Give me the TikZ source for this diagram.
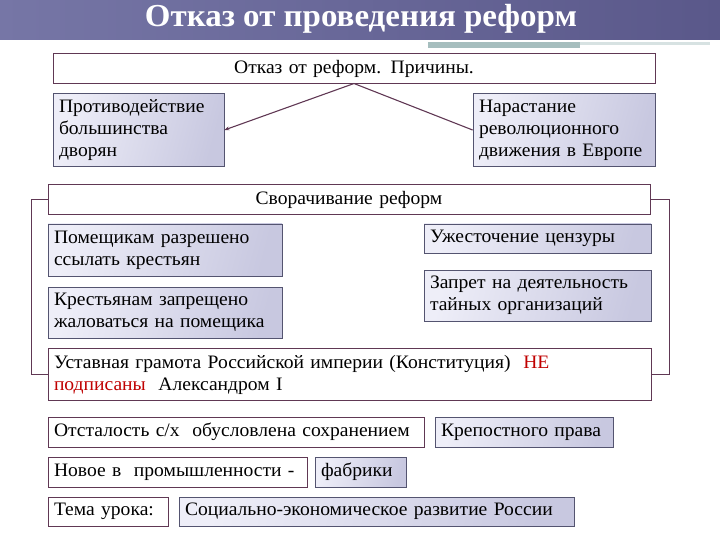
\documentclass[tikz,border=0pt]{standalone}
\usepackage{fontspec}
\setmainfont{Liberation Serif}[FakeStretch=1.03]
\usetikzlibrary{arrows.meta,positioning,calc}
\usepackage{xcolor}

\definecolor{barleft}{RGB}{118,118,166}
\definecolor{barright}{RGB}{90,88,138}
\definecolor{plum}{RGB}{96,56,84}
\definecolor{slateedge}{RGB}{84,84,112}
\definecolor{lavlight}{RGB}{238,238,248}
\definecolor{lavdark}{RGB}{200,200,224}
\definecolor{notred}{RGB}{192,0,0}
\definecolor{tealgray}{RGB}{166,190,190}

\begin{document}
\begin{tikzpicture}[x=1pt,y=-1pt,
    txt/.style={font=\fontsize{19}{22}\selectfont,text=black},
    plainbox/.style={txt,draw=plum,fill=white,line width=0.8pt},
    shadebox/.style={txt,draw=slateedge,line width=0.8pt,
        left color=lavlight,right color=lavdark,shading angle=75},
    link/.style={draw=plum,line width=1.1pt}]

\useasboundingbox (0,0) rectangle (720,540);

% ---- title bar ----
\shade[left color=barleft,right color=barright] (0,0) rectangle (720,40);
\node[font=\bfseries\fontsize{32}{36}\selectfont,text=white] (title) at (361,19)
   {Отказ от проведения реформ};
\fill[tealgray] (428,42) rectangle (580,48);
\fill[tealgray!45] (580,42) rectangle (710,45);

% ---- \rbox{name}{style}{x1}{y1}{x2}{y2}{text}
\newcommand{\rbox}[7]{
  \node[align=left,#2,minimum width={(#5-#3)*1pt},minimum height={(#6-#4)*1pt},
        text width={(#5-#3-12)*1pt},inner sep=6pt]
       (#1) at ({(#3+#5)/2},{(#4+#6)/2}) {#7};
}

% reasons
\rbox{why}{plainbox,align=center}{53}{54}{655}{83}{Отказ от реформ. Причины.}
\rbox{nobles}{shadebox}{53}{94}{224}{166}{Противодействие\\большинства\\дворян}
\rbox{europe}{shadebox}{473}{94}{655}{166}{Нарастание\\революционного\\движения в Европе}
\draw[link,-{Stealth[length=5pt,width=4pt]}] (why.south) -- (nobles.east);
\draw[link] (why.south) -- (europe.west);

% curtailment
\rbox{fold}{plainbox,align=center}{48}{185}{650}{214}{Сворачивание реформ}
\rbox{exile}{shadebox}{48}{224}{282}{276}{Помещикам разрешено\\ссылать крестьян}
\rbox{complain}{shadebox}{48}{287}{282}{338}{Крестьянам запрещено\\жаловаться на помещика}
\rbox{censor}{shadebox}{424}{224}{651}{253}{Ужесточение цензуры}
\rbox{secret}{shadebox}{424}{270}{651}{321}{Запрет на деятельность\\тайных организаций}
\rbox{charter}{plainbox}{48}{349}{651}{400}{Уставная грамота Российской империи (Конституция)\ \ \textcolor{notred}{НЕ}\\\textcolor{notred}{подписаны}\ \ Александром I}

% bracket round the curtailment block
\draw[draw=plum,line width=0.8pt] (fold.west) -- ++(-16,0) |- (charter.west);
\draw[draw=plum,line width=0.8pt] (fold.east) -- ++(19,0) |- (charter.east);

% economy and topic
\rbox{farm}{plainbox}{48}{417}{424}{447}{Отсталость с/х\ \ обусловлена сохранением}
\rbox{serf}{shadebox}{435}{417}{613}{447}{Крепостного права}
\rbox{industry}{plainbox}{48}{457}{307}{487}{Новое в\ \ промышленности -}
\rbox{factory}{shadebox}{315}{457}{406}{487}{фабрики}
\rbox{topic}{plainbox}{48}{497}{168}{526}{Тема урока:}
\rbox{theme}{shadebox}{179}{497}{574}{526}{Социально-экономическое развитие России}

\end{tikzpicture}
\end{document}
